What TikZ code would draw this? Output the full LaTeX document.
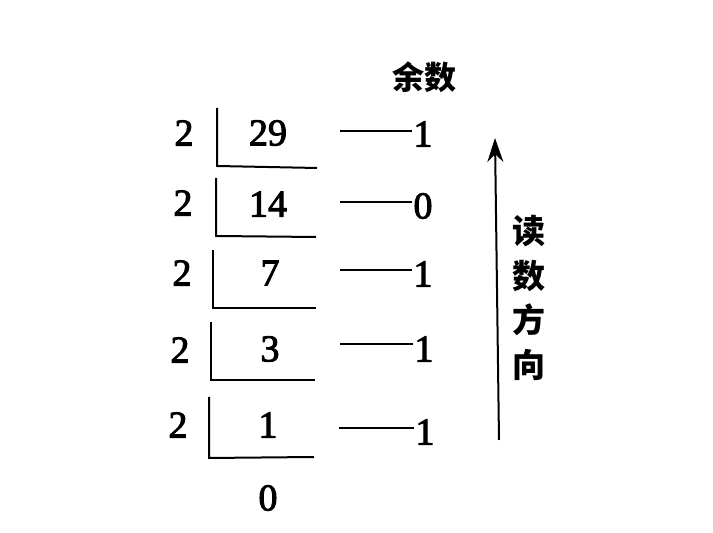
\documentclass[tikz,border=0pt]{standalone}
\usepackage{fontspec}
\setmainfont{Liberation Serif}[FakeBold=2.5]
\newfontfamily\cjk{Noto Sans CJK SC}
\usetikzlibrary{arrows.meta}

\begin{document}
\begin{tikzpicture}[x=0.5pt,y=-0.5pt,line width=1pt,
  num/.style={inner sep=0.5pt,font=\fontsize{19}{22}\selectfont},
  hanzi/.style={inner sep=0pt,font=\cjk\bfseries\fontsize{16.5}{22.3}\selectfont,align=center}]
\useasboundingbox (0,0) rectangle (713,533);
% heading
\node[hanzi,font=\cjk\bfseries\fontsize{16}{18}\selectfont] (head) at (424,77) {余数};
% divisors and quotients
\node[num] (d1) at (184,133) {2};
\node[num] (q1) at (268,133) {29};
\node[num] (d2) at (183,203) {2};
\node[num] (q2) at (268,204) {14};
\node[num] (d3) at (182,273) {2};
\node[num] (q3) at (270,273) {7};
\node[num] (d4) at (180,350) {2};
\node[num] (q4) at (270,349) {3};
\node[num] (d5) at (178,425) {2};
\node[num] (q5) at (268,425) {1};
\node[num] (q6) at (268,498) {0};
% division brackets
\draw (217,108) -- (217,166) -- (317,168);
\draw (216,178) -- (216,236) -- (316,237);
\draw (213,250) -- (213,308) -- (316,308);
\draw (211,322) -- (211,380) -- (315,380);
\draw (209,397) -- (209,458) -- (314,457);
% remainders
\node[num] (r1) at (423,134) {1};
\node[num] (r2) at (423,206) {0};
\node[num] (r3) at (423,274) {1};
\node[num] (r4) at (424,349) {1};
\node[num] (r5) at (425,432) {1};
\coordinate (s1) at (340,131);
\coordinate (s2) at (340,202);
\coordinate (s3) at (340,270);
\coordinate (s4) at (340,344);
\coordinate (s5) at (339,428);
\draw (s1) -- (s1 -| r1.west);
\draw (s2) -- (s2 -| r2.west);
\draw (s3) -- (s3 -| r3.west);
\draw (s4) -- (s4 -| r4.west);
\draw (s5) -- (s5 -| r5.west);
% reading direction
\coordinate (low) at (499,440);
\coordinate (high) at (495,138);
\draw[-{Stealth[length=12pt,width=8pt]}] (low) -- (high);
\node[hanzi] (dir) at (529,298) {读\\数\\方\\向};
\end{tikzpicture}
\end{document}
